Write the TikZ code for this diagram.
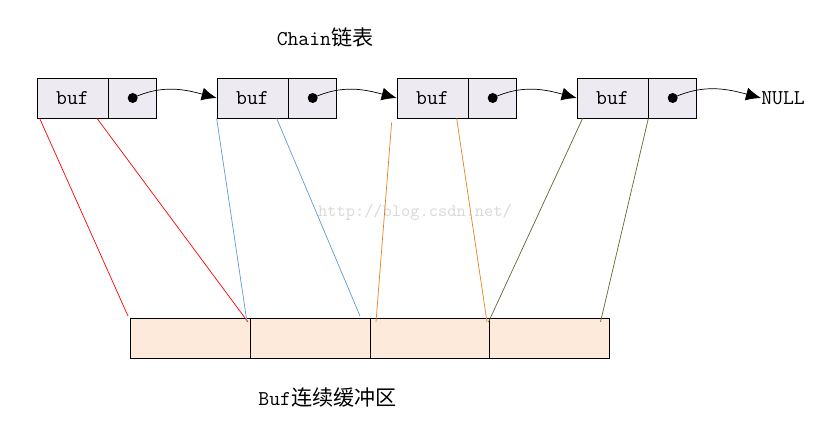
\documentclass[tikz,border=0pt]{standalone}
\usepackage{fontspec}
\newfontfamily\cjk{Noto Sans CJK SC}
\usetikzlibrary{arrows.meta,positioning}
\definecolor{chainfill}{HTML}{EEEAF2}
\definecolor{buffill}{HTML}{FDEADA}
\definecolor{olive}{HTML}{5F6A2E}
\definecolor{bluel}{HTML}{5B9BD5}
\definecolor{orangel}{HTML}{E6821E}
\tikzstyle{bufbox} = [rectangle, minimum width=1.42cm, minimum height=0.8cm, inner sep=0pt, draw=black, fill=chainfill, font=\large\ttfamily]
\tikzstyle{ptrbox} = [rectangle, minimum width=0.96cm, minimum height=0.8cm, inner sep=0pt, draw=black, fill=chainfill]
\tikzstyle{seg} = [rectangle, minimum width=2.4cm, minimum height=0.8cm, inner sep=0pt, outer sep=0pt, draw=black, fill=buffill]
\tikzstyle{arrow} = [-{Latex[length=3mm,width=2.6mm]}]

\begin{document}
\begin{tikzpicture}[node distance=0cm]
\useasboundingbox (0,0) rectangle (16.3,8.46);
\node (title) at (6.5,7.72) {\large\ttfamily Chain\cjk 链表};
\node (b1) [bufbox] at (1.45,6.5) {buf};
\node (p1) [ptrbox, right=of b1] {};
\node (b2) [bufbox] at (5.05,6.5) {buf};
\node (p2) [ptrbox, right=of b2] {};
\node (b3) [bufbox] at (8.65,6.5) {buf};
\node (p3) [ptrbox, right=of b3] {};
\node (b4) [bufbox] at (12.25,6.5) {buf};
\node (p4) [ptrbox, right=of b4] {};
\node (null) [anchor=west, inner sep=0pt, font=\large\ttfamily] at (15.22,6.5) {NULL};

\node (s1) [seg] at (3.8,1.7) {};
\node (s2) [seg] at (6.2,1.7) {};
\node (s3) [seg] at (8.6,1.7) {};
\node (s4) [seg] at (10.99,1.7) {};
\node (bufname) at (6.55,0.5) {\large\ttfamily Buf\cjk 连续缓冲区};
\node (mark) at (8.3,4.22) {\ttfamily\color{black!15} http://blog.csdn.net/};

% pointers
\foreach \p in {p1,p2,p3,p4} \fill (\p.center) circle (0.1);
\draw [arrow] (p1.center) to[out=25,in=165] (b2.west);
\draw [arrow] (p2.center) to[out=25,in=165] (b3.west);
\draw [arrow] (p3.center) to[out=25,in=165] (b4.west);
\draw [arrow] (p4.center) to[out=25,in=165] (null.west);

% buffers
\draw [red] ([xshift=0.06cm]b1.south west) -- ([xshift=-0.04cm,yshift=0.04cm]s1.north west);
\draw [red] ([xshift=0.49cm]b1.south) -- ([xshift=-0.04cm,yshift=-0.08cm]s1.north east);
\draw [bluel] (b2.south west) -- ([xshift=-0.06cm,yshift=-0.08cm]s2.north west);
\draw [bluel] ([xshift=1.2cm]b2.south west) -- ([xshift=-0.2cm,yshift=0.04cm]s2.north east);
\draw [orangel] ([xshift=-0.1cm,yshift=-0.08cm]b3.south west) -- ([xshift=0.12cm,yshift=-0.08cm]s3.north west);
\draw [orangel] ([xshift=1.2cm]b3.south west) -- ([xshift=-0.06cm,yshift=-0.08cm]s3.north east);
\draw [olive] ([xshift=0.12cm]b4.south west) -- ([xshift=-0.02cm,yshift=-0.08cm]s4.north west);
\draw [olive] (p4.south west) -- ([xshift=-0.18cm,yshift=-0.08cm]s4.north east);
\end{tikzpicture}
\end{document}
